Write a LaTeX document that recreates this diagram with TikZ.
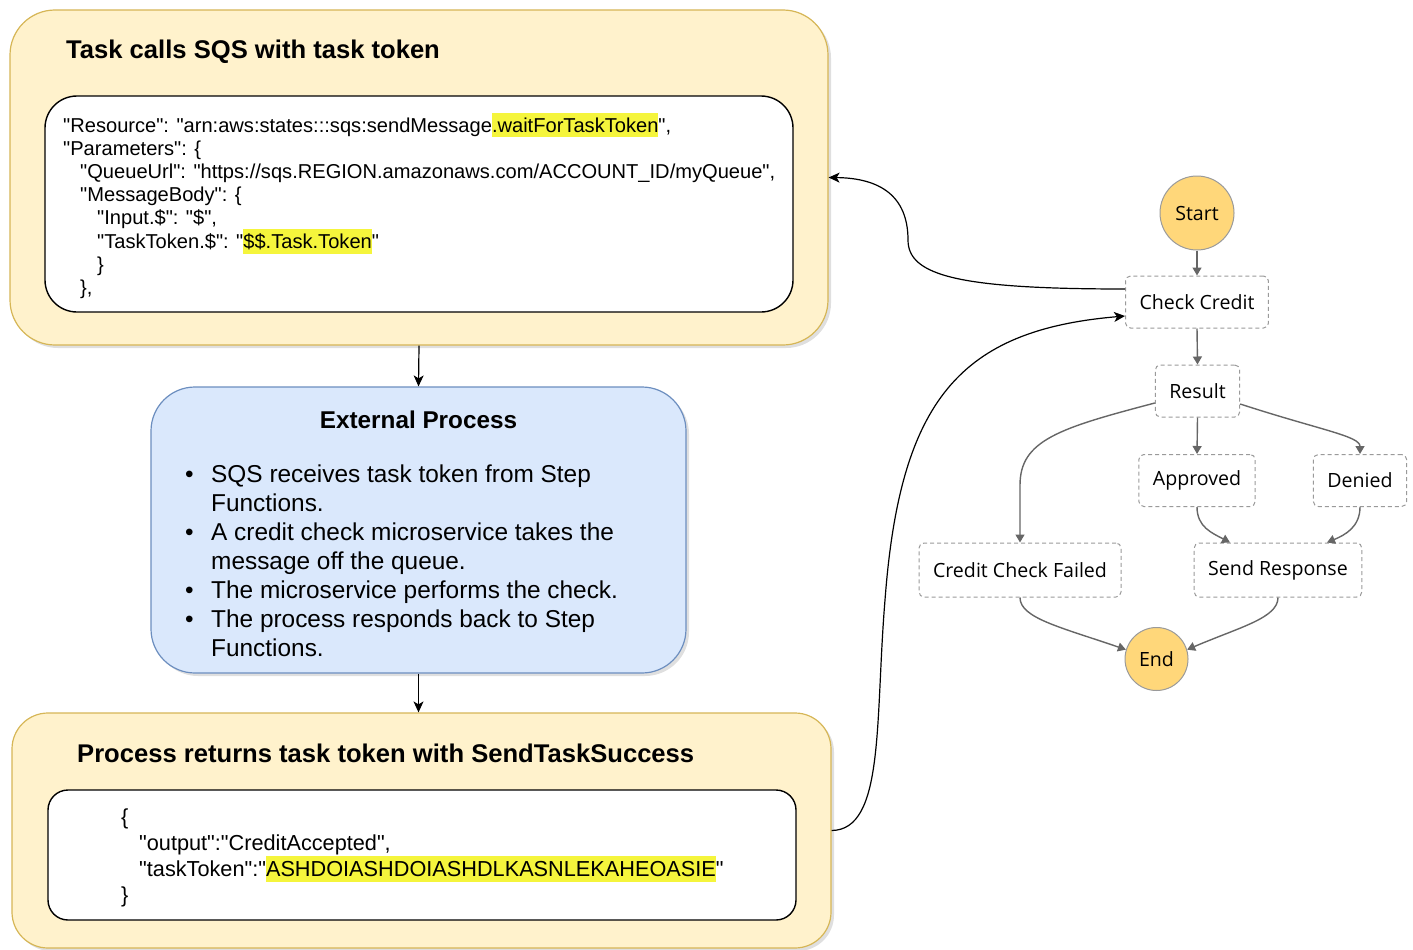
\documentclass[tikz,border=0pt]{standalone}
\usepackage{fontspec}
\setmainfont{Liberation Sans}[Ligatures=TeXOff]
\newfontfamily\statefont{Open Sans}
\usetikzlibrary{positioning,arrows.meta,shadows}

\definecolor{noteyellow}{HTML}{FFF2CC}
\definecolor{noteedge}{HTML}{D6B656}
\definecolor{procblue}{HTML}{DAE8FC}
\definecolor{procedge}{HTML}{6C8EBF}
\definecolor{termfill}{HTML}{FFD77A}
\definecolor{hlyellow}{HTML}{F5F53C}
\definecolor{stategray}{HTML}{9A9A9A}
\definecolor{flowgray}{HTML}{666666}

\newcommand{\hlt}[1]{{\setlength{\fboxsep}{0pt}\colorbox{hlyellow}{\rule[-0.25em]{0pt}{1.2em}#1}}}

\begin{document}
\begin{tikzpicture}[
  x=1pt, y=-1pt,
  notebox/.style={
    draw=noteedge, fill=noteyellow, line width=1.2pt,
    drop shadow={shadow xshift=3pt, shadow yshift=-3pt, opacity=0.25}
  },
  procbox/.style={
    draw=procedge, fill=procblue, line width=1.2pt, rounded corners=44pt,
    drop shadow={shadow xshift=3pt, shadow yshift=-3pt, opacity=0.25}
  },
  codebox/.style={draw=black, fill=white, line width=1.4pt},
  titletext/.style={font=\fontsize{25.6}{30}\selectfont\bfseries, inner sep=0pt},
  codetext/.style={align=left, inner sep=0pt},
  statebox/.style={
    draw=stategray, dash pattern=on 4pt off 3pt, rounded corners=5pt,
    fill=white, line width=1pt, inner xsep=14pt, minimum height=52pt,
    font=\statefont\fontsize{19.6}{22}\selectfont
  },
  termnode/.style={
    circle, draw=stategray, fill=termfill, line width=1pt, inner sep=0pt,
    font=\statefont\fontsize{19.6}{22}\selectfont
  },
  stepline/.style={-{Triangle[width=9pt,length=8pt]}, flowgray, line width=1.4pt},
  flow/.style={-{Stealth[width=10pt,length=11pt,inset=3pt]}, black, line width=1.2pt},
]
\useasboundingbox (0,0) rectangle (1413,950);

%% Task calls SQS (top)
\node[notebox, rounded corners=45pt, minimum width=818pt, minimum height=335pt] (top) at (419,177.5) {};
\node[titletext, anchor=base west] (toptitle) at (66,58.5) {Task calls SQS with task token};
\node[codebox, rounded corners=32pt, minimum width=748pt, minimum height=216pt] (topcode) at (419,204) {};
\node[codetext, anchor=north west, font=\fontsize{20.1}{23}\selectfont] (req) at (63,113) {%
"Resource": "arn:aws:states:::sqs:sendMessage\hlt{.waitForTaskToken}",\\
"Parameters": \{\\
\hspace*{17pt}"QueueUrl": "https://sqs.REGION.amazonaws.com/ACCOUNT\_ID/myQueue",\\
\hspace*{17pt}"MessageBody": \{\\
\hspace*{34pt}"Input.\$": "\$",\\
\hspace*{34pt}"TaskToken.\$": "\hlt{\$\$.Task.Token}"\\
\hspace*{34pt}\}\\
\hspace*{17pt}\},};

%% External process (middle)
\node[procbox, minimum width=535pt, minimum height=286pt] (ext) at (418.5,530) {};
\node[titletext, font=\fontsize{24.3}{29}\selectfont\bfseries, anchor=base] (exttitle) at (418.5,428.5) {External Process};
\node[codetext, anchor=north west, font=\fontsize{24.4}{29}\selectfont] (steps) at (185,465) {%
\makebox[26pt][l]{\textbullet}SQS receives task token from Step\\
\hspace*{26pt}Functions.\\
\makebox[26pt][l]{\textbullet}A credit check microservice takes the\\
\hspace*{26pt}message off the queue.\\
\makebox[26pt][l]{\textbullet}The microservice performs the check.\\
\makebox[26pt][l]{\textbullet}The process responds back to Step\\
\hspace*{26pt}Functions.};

%% Process returns task token (bottom)
\node[notebox, rounded corners=36pt, minimum width=819pt, minimum height=235pt] (bot) at (421.5,830.5) {};
\node[titletext, anchor=base west] (bottitle) at (77,762.5) {Process returns task token with SendTaskSuccess};
\node[codebox, rounded corners=20pt, minimum width=748pt, minimum height=130pt] (botcode) at (422,855) {};
\node[codetext, anchor=north west, font=\fontsize{21.7}{25.9}\selectfont] (reply) at (121,809) {%
\{\\
\hspace*{18pt}"output":"CreditAccepted",\\
\hspace*{18pt}"taskToken":"\hlt{ASHDOIASHDOIASHDLKASNLEKAHEOASIE}"\\
\}};

%% Arrows between the boxes
\draw[flow] (top.south) -- (ext.north);
\draw[flow] (ext.south) -- (ext.south |- bot.north);

%% State machine
\node[termnode, minimum size=74pt] (start) at (1197,213) {Start};
\node[statebox] (chk)  at (1197,302)   {Check Credit};
\node[statebox] (res)  at (1197.5,391) {Result};
\node[statebox] (appr) at (1197,480.5) {Approved};
\node[statebox] (deny) at (1360,480.5) {Denied};
\node[statebox, minimum height=54pt] (fail) at (1020,570) {Credit Check Failed};
\node[statebox, minimum height=54pt] (send) at (1278,570) {Send Response};
\node[termnode, minimum size=63pt] (end) at (1156.5,659) {End};

\draw[stepline] (start.south) -- (chk.north);
\draw[stepline] (chk.south) -- (res.north);
\draw[stepline] (res.south) -- (appr.north);
\draw[stepline] ([yshift=-13pt]res.east) .. controls (1320,430) and (1360,436) .. (deny.north);
\draw[stepline] ([yshift=-12pt]res.west) .. controls (1060,428) and (1020,440) .. (1020,485) -- (fail.north);
\draw[stepline] (appr.south) .. controls (1197,527) and (1212,533) .. ([xshift=-48pt]send.north);
\draw[stepline] (deny.south) .. controls (1360,527) and (1345,535) .. ([xshift=49pt]send.north);
\draw[stepline] (fail.south) .. controls (1020,618) and (1060,627) .. (end.163);
\draw[stepline] (send.south) .. controls (1278,618) and (1240,627) .. (end.17);

%% Task token round trip
\draw[flow] ([yshift=13pt]chk.west) .. controls (960,289) and (908,276) .. (908,240)
  .. controls (908,196) and (880,178) .. (top.east);
\draw[flow] (bot.east) .. controls (885,830) and (875,720) .. (885,600)
  .. controls (900,400) and (960,330) .. ([yshift=-14pt]chk.west);

\end{tikzpicture}
\end{document}
